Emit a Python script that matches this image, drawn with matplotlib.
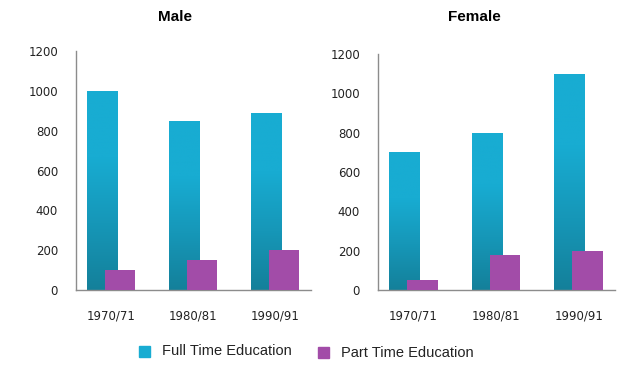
import numpy as np
import matplotlib
matplotlib.use("Agg")
from matplotlib import pyplot as plt
from matplotlib.colors import LinearSegmentedColormap

# data
years = ["1970/71", "1980/81", "1990/91"]
male_full = [1000, 850, 890]
male_part = [100, 150, 200]
female_full = [700, 800, 1100]
female_part = [50, 180, 200]
yticks = [0, 200, 400, 600, 800, 1000, 1200]

full_top = "#18acd2"
full_bot = "#14809a"
part_col = "#a24ca8"
grad = LinearSegmentedColormap.from_list("ft", [full_bot, "#1697b8", full_top, full_top])

plt.rcParams['font.family'] = ['DejaVu Sans']

fig = plt.figure(figsize=(6.37, 3.75), dpi=100)


def panel(rect, full, part):
    ax = fig.add_axes(rect)
    x = np.arange(len(years))
    w = 0.37
    off = 0.11
    bars = ax.bar(x - off, full, w, color=full_top, zorder=2)
    # gradient fill, light at top, dark at bottom
    g = np.linspace(0, 1, 256).reshape(-1, 1)
    for b in bars:
        bx, by = b.get_x(), b.get_y()
        bw, bh = b.get_width(), b.get_height()
        im = ax.imshow(g, cmap=grad, origin="lower", aspect="auto",
                       extent=[bx, bx + bw, by, by + bh], zorder=2.5)
        im.set_clip_path(b)
    ax.bar(x + off, part, w, color=part_col, zorder=3)
    ax.set_xlim(-0.43, 2.44)
    ax.set_ylim(0, 1200)
    ax.set_yticks(yticks)
    ax.set_xticks(x)
    ax.set_xticklabels(years)
    ax.tick_params(axis="both", length=0, labelsize=8.5, colors="#222222")
    ax.tick_params(axis="y", pad=13)
    ax.tick_params(axis="x", pad=14)
    for s in ["top", "right"]:
        ax.spines[s].set_visible(False)
    for s in ["left", "bottom"]:
        ax.spines[s].set_color("#8c8c8c")
        ax.spines[s].set_linewidth(1.0)
    return ax


ax1 = panel([76 / 637, 1 - 290 / 375, 235 / 637, 239 / 375], male_full, male_part)
ax2 = panel([378 / 637, 1 - 290 / 375, 237 / 637, 236 / 375], female_full, female_part)

# titles
fig.text(175 / 637, 1 - 17 / 375, "Male", fontsize=11, fontweight="bold",
         ha="center", va="center", family="Liberation Sans")
fig.text(474 / 637, 1 - 17 / 375, "Female", fontsize=11, fontweight="bold",
         ha="center", va="center", family="Liberation Sans")

# legend
fig.patches.append(plt.Rectangle((139 / 637, 1 - 357 / 375), 11 / 637, 11 / 375,
                                 color=full_top, transform=fig.transFigure, figure=fig))
fig.text(162 / 637, 1 - 351 / 375, "Full Time Education", fontsize=10.5,
         va="center", ha="left", color="#222222", family="Liberation Sans")
fig.patches.append(plt.Rectangle((318 / 637, 1 - 358 / 375), 11 / 637, 11 / 375,
                                 color=part_col, transform=fig.transFigure, figure=fig))
fig.text(341 / 637, 1 - 353 / 375, "Part Time Education", fontsize=10.5,
         va="center", ha="left", color="#222222", family="Liberation Sans")

fig.savefig("out.png", dpi=100)
